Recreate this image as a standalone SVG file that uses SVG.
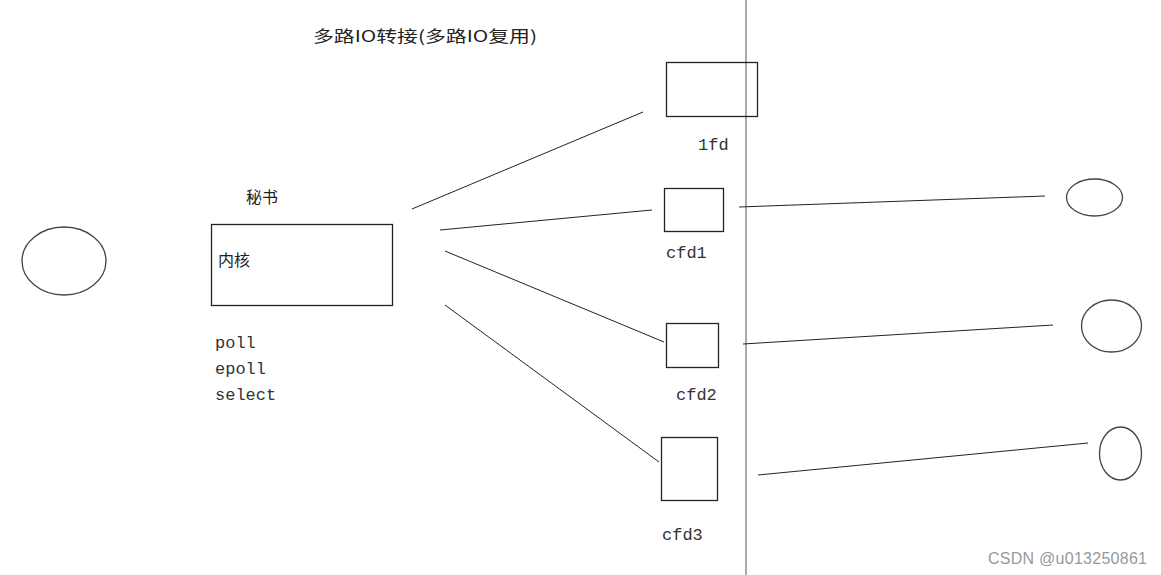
<svg xmlns="http://www.w3.org/2000/svg" width="1161" height="575" viewBox="0 0 1161 575">
<style>
.box{fill:none;stroke:#222;stroke-width:1.3}
.ell{fill:none;stroke:#444;stroke-width:1.3}
.ln{stroke:#222;stroke-width:1}
.cjk{font-family:"Noto Sans CJK SC",sans-serif;font-size:16px;fill:#222}
.mono{font-family:"Liberation Mono","DejaVu Sans Mono",monospace;font-size:17px;fill:#333}
.wm{font-family:"Liberation Sans",Arial,sans-serif;font-size:16px;fill:#999}
</style>
<rect width="1161" height="575" fill="#fff"/>
<line x1="746" y1="0" x2="746" y2="575" stroke="#aaa" stroke-width="2"/>
<text class="cjk" x="313" y="42" font-size="17" textLength="224" lengthAdjust="spacingAndGlyphs">多路IO转接(多路IO复用)</text>
<g id="client"><ellipse class="ell" cx="64" cy="261" rx="42" ry="34"/></g>
<g id="kernel">
<text class="cjk" x="246" y="203">秘书</text>
<rect class="box" x="211.5" y="224.5" width="181" height="81"/>
<text class="cjk" x="218" y="266" font-size="18">内核</text>
<text class="mono" x="215" y="348">poll</text>
<text class="mono" x="215" y="374">epoll</text>
<text class="mono" x="215" y="400">select</text>
</g>
<g id="lfd"><rect class="box" x="666.5" y="62.5" width="91" height="54"/><text class="mono" x="698" y="150">1fd</text></g>
<g id="cfd1"><rect class="box" x="664.5" y="188.5" width="59" height="43"/><text class="mono" x="666" y="258">cfd1</text></g>
<g id="cfd2"><rect class="box" x="666.5" y="323.5" width="52" height="44"/><text class="mono" x="676" y="400">cfd2</text></g>
<g id="cfd3"><rect class="box" x="661.5" y="437.5" width="56" height="63"/><text class="mono" x="662" y="540">cfd3</text></g>
<g id="c1"><ellipse class="ell" cx="1094.5" cy="197.5" rx="28" ry="18.5"/></g>
<g id="c2"><ellipse class="ell" cx="1111.5" cy="326" rx="30" ry="26"/></g>
<g id="c3"><ellipse class="ell" cx="1120.5" cy="453.5" rx="21" ry="26.5"/></g>
<g id="connectors">
<line class="ln" x1="412" y1="209" x2="643" y2="112"/>
<line class="ln" x1="440" y1="230" x2="652" y2="210"/>
<line class="ln" x1="445" y1="251" x2="664" y2="342"/>
<line class="ln" x1="445" y1="305" x2="659" y2="462"/>
<line class="ln" x1="739" y1="207" x2="1045" y2="196"/>
<line class="ln" x1="743" y1="344" x2="1053" y2="325"/>
<line class="ln" x1="758" y1="475" x2="1088" y2="443"/>
</g>
<text class="wm" x="988" y="564" textLength="159">CSDN @u013250861</text>
</svg>
